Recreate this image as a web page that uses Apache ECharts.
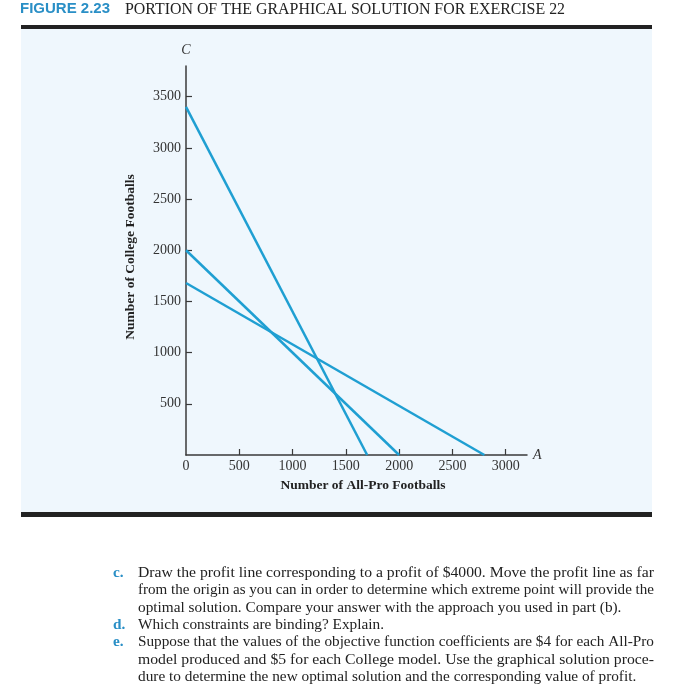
<!DOCTYPE html>
<html>
<head>
<meta charset="utf-8">
<script src="https://cdn.jsdelivr.net/npm/echarts@6/dist/echarts.min.js"></script>
<style>
html,body{margin:0;padding:0;background:#fff;}
#chart{width:700px;height:690px;}
</style>
</head>
<body>
<div id="chart"></div>
<script>
// Constraint lines (endpoints)
const line1 = [[0, 3400], [1700, 0]];
const line2 = [[0, 2000], [2000, 0]];
const line3 = [[0, 1680], [2800, 0]];
const xTickValues = [500, 1000, 1500, 2000, 2500, 3000];
const xLabelValues = [0, 500, 1000, 1500, 2000, 2500, 3000];
const yTickValues = [500, 1000, 1500, 2000, 2500, 3000, 3500];
const figureNumber = 'FIGURE 2.23';
const figureTitle = 'PORTION OF THE GRAPHICAL SOLUTION FOR EXERCISE 22';
const xAxisTitle = 'Number of All-Pro Footballs';
const yAxisTitle = 'Number of College Footballs';
const questions = [
  ['c.', ['Draw the profit line corresponding to a profit of $4000. Move the profit line as far',
          'from the origin as you can in order to determine which extreme point will provide the',
          'optimal solution. Compare your answer with the approach you used in part (b).']],
  ['d.', ['Which constraints are binding? Explain.']],
  ['e.', ['Suppose that the values of the objective function coefficients are $4 for each All-Pro',
          'model produced and $5 for each College model. Use the graphical solution proce-',
          'dure to determine the new optimal solution and the corresponding value of profit.']]
];

const serif = '"Liberation Serif", "DejaVu Serif", serif';
const lineColor = '#1f9fd2';
const axisColor = '#3a3a3a';
const bodyFont = '15.3px ' + serif;

const measureCtx = document.createElement('canvas').getContext('2d');
measureCtx.font = bodyFont;

const graphics = [
  {type: 'rect', shape: {x: 21, y: 28, width: 631, height: 485}, style: {fill: '#eff7fd'}, z: -10},
  {type: 'rect', shape: {x: 21, y: 25, width: 631, height: 4}, style: {fill: '#222'}},
  {type: 'rect', shape: {x: 21, y: 512, width: 631, height: 5}, style: {fill: '#222'}},
  {type: 'text', x: 20, y: 9, style: {text: figureNumber, fill: '#2a8fc6', font: 'bold 15px "Liberation Sans Narrow", "Liberation Sans", sans-serif', textVerticalAlign: 'middle'}},
  {type: 'text', x: 125, y: 10, style: {text: figureTitle, fill: '#222', font: '15.9px ' + serif, textVerticalAlign: 'middle'}},
  {type: 'text', x: 363, y: 486, style: {text: xAxisTitle, fill: '#222', font: 'bold 13.5px ' + serif, textAlign: 'center', textVerticalAlign: 'middle'}},
  {type: 'text', x: 131, y: 257, rotation: Math.PI / 2, style: {text: yAxisTitle, fill: '#222', font: 'bold 13.5px ' + serif, textAlign: 'center', textVerticalAlign: 'middle'}}
];

const textLeft = 138, textRight = 654;
let ly = 573;
questions.forEach(q => {
  graphics.push({type: 'text', x: 113, y: ly, style: {text: q[0], fill: '#2a8fc6', font: 'bold ' + bodyFont, textVerticalAlign: 'middle'}});
  q[1].forEach((t, i) => {
    const justified = i < q[1].length - 1;
    const w = measureCtx.measureText(t).width;
    const sx = justified ? (textRight - textLeft) / w : 1;
    graphics.push({type: 'text', x: textLeft, y: ly, scaleX: sx, style: {text: t, fill: '#222', font: bodyFont, textVerticalAlign: 'middle'}});
    ly += 17.3;
  });
});

function mkSeries(d) {
  return {type: 'line', data: d, symbol: 'none', lineStyle: {color: lineColor, width: 2.5}, silent: true, animation: false};
}

const plain = v => String(v);

const chart = echarts.init(document.getElementById('chart'));
chart.setOption({
  animation: false,
  grid: {left: 186, top: 66, width: 341, height: 389, containLabel: false},
  xAxis: {
    type: 'value', min: 0, max: 3200,
    name: 'A', nameLocation: 'end', nameGap: 6,
    nameTextStyle: {fontFamily: serif, fontStyle: 'italic', fontSize: 14, color: '#333'},
    splitLine: {show: false},
    axisLine: {show: true, lineStyle: {color: axisColor, width: 1.5}},
    axisTick: {show: true, inside: true, length: 6, lineStyle: {color: axisColor, width: 1.2}, customValues: xTickValues},
    axisLabel: {fontFamily: serif, fontSize: 14, color: '#333', margin: 4, formatter: plain, customValues: xLabelValues}
  },
  yAxis: {
    type: 'value', min: 0, max: 3800,
    name: 'C', nameLocation: 'end', nameGap: 9,
    nameTextStyle: {fontFamily: serif, fontStyle: 'italic', fontSize: 14, color: '#333'},
    splitLine: {show: false},
    axisLine: {show: true, lineStyle: {color: axisColor, width: 1.5}},
    axisTick: {show: true, inside: true, length: 6, lineStyle: {color: axisColor, width: 1.2}, customValues: yTickValues},
    axisLabel: {fontFamily: serif, fontSize: 14, color: '#333', margin: 5, formatter: plain, customValues: yTickValues}
  },
  series: [mkSeries(line1), mkSeries(line2), mkSeries(line3)],
  graphic: graphics
});
</script>
</body>
</html>
